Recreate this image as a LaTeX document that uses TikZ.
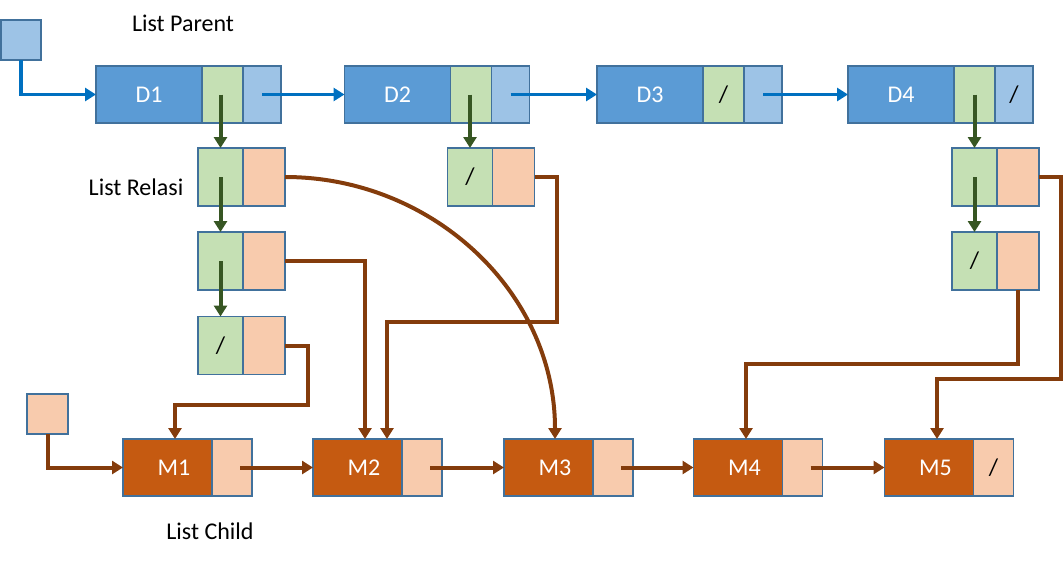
\documentclass[tikz,border=0pt]{standalone}
\usepackage{fontspec}
\setmainfont{Carlito}
\usetikzlibrary{arrows.meta,positioning}
\definecolor{pblue}{HTML}{5B9BD5}
\definecolor{lblue}{HTML}{9DC3E6}
\definecolor{lgreen}{HTML}{C5E0B4}
\definecolor{peach}{HTML}{F8CBAD}
\definecolor{cbrown}{HTML}{C55A11}
\definecolor{cborder}{HTML}{41719C}
\definecolor{ablue}{HTML}{0070C0}
\definecolor{agreen}{HTML}{375623}
\definecolor{abrown}{HTML}{843C0C}
\begin{document}
\begin{tikzpicture}[x=1pt,y=-1pt,font=\fontsize{24}{28}\selectfont,
  cell/.style={draw=cborder,line width=1.2pt,inner sep=0,outer sep=0,minimum height=57pt},
  parent/.style={cell,fill=pblue,text=white,minimum width=106pt},
  nextp/.style={cell,fill=lblue,minimum width=38pt,anchor=west},
  firstr/.style={cell,fill=lgreen,minimum width=41pt,anchor=west},
  rel/.style={cell,fill=lgreen,minimum width=45pt,minimum height=58pt},
  relc/.style={cell,fill=peach,minimum width=42pt,minimum height=58pt,anchor=west},
  child/.style={cell,fill=cbrown,text=white,minimum width=89pt},
  nextc/.style={cell,fill=peach,minimum width=40pt,anchor=west},
  arr/.style={line width=4pt,-{Triangle[width=13pt,length=11pt]}},
  barrow/.style={arr,ablue,line width=3.5pt},
  garrow/.style={arr,agreen},
  carrow/.style={arr,abrown}]
\useasboundingbox (0,0) rectangle (1064,560);

% list parent
\node [cell,fill=lblue,minimum width=40pt,minimum height=40pt] (hp) at (21,40) {};
\node (lp) at (183,23) {List Parent};
\node [parent] (d1) at (149,94.5) {D1};
\node [firstr] (d1g) at (d1.east) {};
\node [nextp] (d1b) at (d1g.east) {};
\node [parent] (d2) at (397.5,94.5) {D2};
\node [firstr] (d2g) at (d2.east) {};
\node [nextp] (d2b) at (d2g.east) {};
\node [parent] (d3) at (650,94.5) {D3};
\node [firstr] (d3g) at (d3.east) {/};
\node [nextp] (d3b) at (d3g.east) {};
\node [parent] (d4) at (901,94.5) {D4};
\node [firstr] (d4g) at (d4.east) {};
\node [nextp] (d4b) at (d4g.east) {/};

% list relasi
\node (lr) at (136,187) {List Relasi};
\node [rel] (r1) at (220.5,177) {};
\node [relc] (r1c) at (r1.east) {};
\node [rel] (r2) at (220.5,261) {};
\node [relc] (r2c) at (r2.east) {};
\node [rel] (r3) at (220.5,345.5) {/};
\node [relc] (r3c) at (r3.east) {};
\node [rel] (r4) at (470,177) {/};
\node [relc] (r4c) at (r4.east) {};
\node [rel] (r5) at (974.5,177) {};
\node [relc] (r5c) at (r5.east) {};
\node [rel] (r6) at (974.5,261) {/};
\node [relc] (r6c) at (r6.east) {};

% list child
\node [cell,fill=peach,minimum width=41pt,minimum height=40pt] (hc) at (47.5,414) {};
\node (lc) at (210,531) {List Child};
\node [child] (m1) at (167.5,467.5) {\hspace{13pt}M1};
\node [nextc] (m1c) at (m1.east) {};
\node [child] (m2) at (357.5,467.5) {\hspace{13pt}M2};
\node [nextc] (m2c) at (m2.east) {};
\node [child] (m3) at (548.5,467.5) {\hspace{13pt}M3};
\node [nextc] (m3c) at (m3.east) {};
\node [child] (m4) at (738,467.5) {\hspace{13pt}M4};
\node [nextc] (m4c) at (m4.east) {};
\node [child] (m5) at (929,467.5) {\hspace{13pt}M5};
\node [nextc] (m5c) at (m5.east) {/};

\draw [barrow] (hp.south) |- (d1.west);
\draw [barrow] (d1b.center) -- (d2.west);
\draw [barrow] (d2b.center) -- (d3.west);
\draw [barrow] (d3b.center) -- (d4.west);

\draw [garrow] (r1.north |- d1g.center) -- (r1.north);
\draw [garrow] (r1.center) -- (r2.north);
\draw [garrow] (r2.center) -- (r3.north);
\draw [garrow] (r4.north |- d2g.center) -- (r4.north);
\draw [garrow] (r5.north |- d4g.center) -- (r5.north);
\draw [garrow] (r5.center) -- (r6.north);

\draw [carrow] (hc.south) |- (m1.west);
\draw [carrow] ([xshift=8pt]m1c.center) -- (m2.west);
\draw [carrow] ([xshift=8pt]m2c.center) -- (m3.west);
\draw [carrow] ([xshift=8pt]m3c.center) -- (m4.west);
\draw [carrow] ([xshift=8pt]m4c.center) -- (m5.west);

\draw [carrow] (r1c.east) to[out=0,in=90] ([xshift=6.5pt]m3.north);
\draw [carrow] (r2c.east) -| ([xshift=7.5pt]m2.north);
\draw [carrow] (r3c.east) -| (308,405) -| ([xshift=7.5pt]m1.north);
\draw [carrow] (r4c.east) -| (557,322) -| ([xshift=29.5pt]m2.north);
\draw [carrow] (r5c.east) -| (1061,379) -| ([xshift=8pt]m5.north);
\draw [carrow] (r6c.south) |- (746,364) -- ([xshift=8pt]m4.north);
\end{tikzpicture}
\end{document}
